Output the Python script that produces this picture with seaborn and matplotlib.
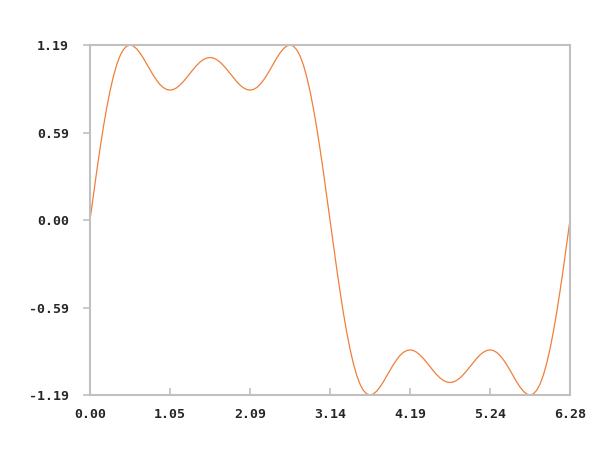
import numpy as np
import pandas as pd
import matplotlib
matplotlib.use("Agg")
import matplotlib.pyplot as plt
import seaborn as sns

# curve sampled every 2.5 degrees from 0 to 360
degrees = [i * 2.5 for i in range(145)]
values = [
    0.0000, 0.1661, 0.3284, 0.4836, 0.6284, 0.7598, 0.8756, 0.9740, 1.0538, 1.1146,
    1.1566, 1.1807, 1.1884, 1.1815, 1.1624, 1.1340, 1.0989, 1.0601, 1.0204, 0.9823,
    0.9483, 0.9201, 0.8991, 0.8864, 0.8821, 0.8862, 0.8980, 0.9165, 0.9400, 0.9671,
    0.9957, 1.0239, 1.0500, 1.0723, 1.0892, 1.0999, 1.1035,
    1.0999, 1.0892, 1.0723, 1.0500, 1.0239, 0.9957, 0.9671, 0.9400, 0.9165, 0.8980,
    0.8862, 0.8821, 0.8864, 0.8991, 0.9201, 0.9483, 0.9823, 1.0204, 1.0601, 1.0989,
    1.1340, 1.1624, 1.1815, 1.1884, 1.1807, 1.1566, 1.1146, 1.0538, 0.9740, 0.8756,
    0.7598, 0.6284, 0.4836, 0.3284, 0.1661, 0.0000,
    -0.1661, -0.3284, -0.4836, -0.6284, -0.7598, -0.8756, -0.9740, -1.0538, -1.1146,
    -1.1566, -1.1807, -1.1884, -1.1815, -1.1624, -1.1340, -1.0989, -1.0601, -1.0204, -0.9823,
    -0.9483, -0.9201, -0.8991, -0.8864, -0.8821, -0.8862, -0.8980, -0.9165, -0.9400, -0.9671,
    -0.9957, -1.0239, -1.0500, -1.0723, -1.0892, -1.0999, -1.1035,
    -1.0999, -1.0892, -1.0723, -1.0500, -1.0239, -0.9957, -0.9671, -0.9400, -0.9165, -0.8980,
    -0.8862, -0.8821, -0.8864, -0.8991, -0.9201, -0.9483, -0.9823, -1.0204, -1.0601, -1.0989,
    -1.1340, -1.1624, -1.1815, -1.1884, -1.1807, -1.1566, -1.1146, -1.0538, -0.9740, -0.8756,
    -0.7598, -0.6284, -0.4836, -0.3284, -0.1661, 0.0000,
]
x_ticks = [0.00, 1.05, 2.09, 3.14, 4.19, 5.24, 6.28]
y_ticks = [-1.19, -0.59, 0.00, 0.59, 1.19]

df = pd.DataFrame({"x": np.radians(degrees), "y": values})

sns.set_style("white")
plt.rcParams["font.family"] = ["DejaVu Sans Mono", "DejaVu Sans"]

fig = plt.figure(figsize=(6, 4.5), dpi=100)
ax = fig.add_axes([0.15, 0.1222, 0.8, 0.7778])
sns.lineplot(x="x", y="y", data=df, ax=ax, color="#f07f3a", linewidth=0.9)

ax.set_xlim(0, 2 * np.pi)
ax.set_ylim(-1.1884, 1.1884)
ax.set_xticks(np.linspace(0, 2 * np.pi, 7))
ax.set_xticklabels(["%.2f" % t for t in x_ticks])
ax.set_yticks(np.linspace(-1.1884, 1.1884, 5))
ax.set_yticklabels(["%.2f" % t for t in y_ticks])
ax.set_xlabel("")
ax.set_ylabel("")

for s in ax.spines.values():
    s.set_color("#c0c0c0")
    s.set_linewidth(1.5)

ax.tick_params(axis="x", direction="in", length=5, width=1.2, color="#c0c0c0",
               pad=9, labelsize=9.5, bottom=True)
ax.tick_params(axis="y", direction="out", length=5, width=1.2, color="#c0c0c0",
               pad=10, labelsize=9.5, left=True)
for lab in ax.get_xticklabels() + ax.get_yticklabels():
    lab.set_fontweight("bold")

fig.savefig("out.png", dpi=100)
